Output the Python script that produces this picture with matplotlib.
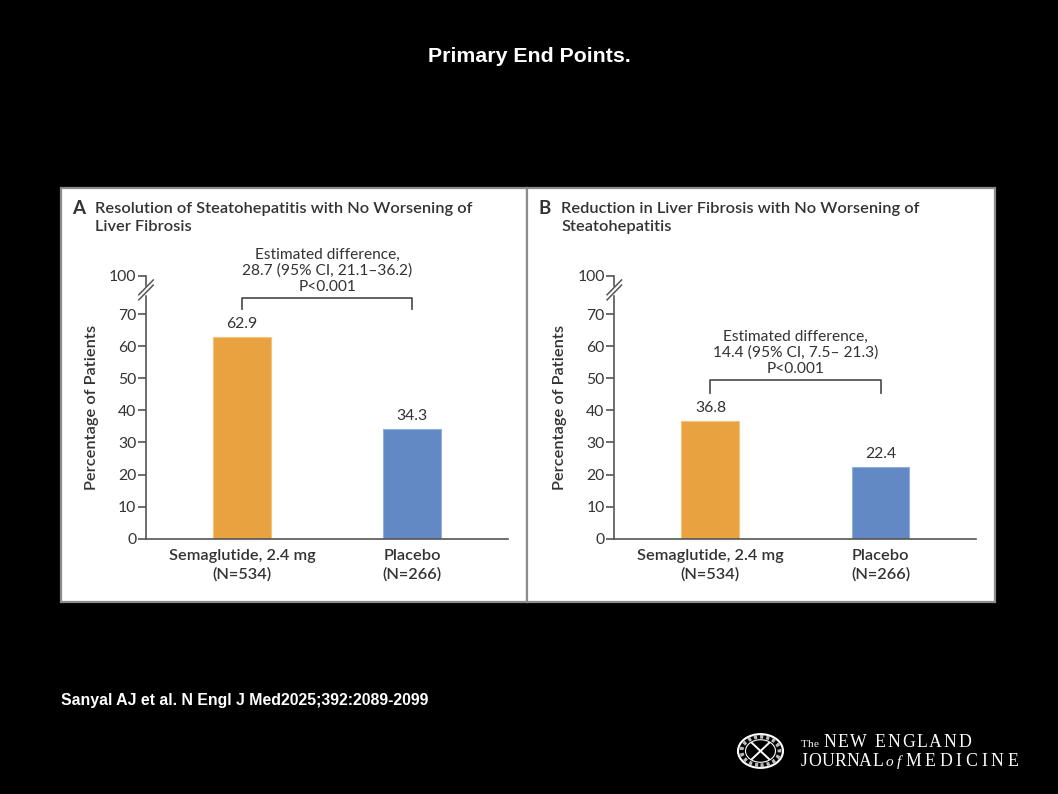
import matplotlib
matplotlib.use("Agg")
import matplotlib.pyplot as plt
from matplotlib.patches import Rectangle, Circle
import matplotlib.transforms as mtransforms

# ---------------- data ----------------
groups = ["Semaglutide, 2.4 mg\n(N=534)", "Placebo\n(N=266)"]
panel_letters = ["A", "B"]
panel_titles = ["Resolution of Steatohepatitis with No Worsening of\nLiver Fibrosis",
                "Reduction in Liver Fibrosis with No Worsening of\nSteatohepatitis"]
values_A = [62.9, 34.3]
values_B = [36.8, 22.4]
diff_texts = ["Estimated difference,\n28.7 (95% CI, 21.1\u201336.2)\nP<0.001",
              "Estimated difference,\n14.4 (95% CI, 7.5\u2013 21.3)\nP<0.001"]
bracket_top = [75.0, 49.4]
bracket_leg = [71.5, 45.3]
ytick_vals = [0, 10, 20, 30, 40, 50, 60, 70, 82]
ytick_labels = ["0", "10", "20", "30", "40", "50", "60", "70", "100"]
bar_colors = ["#E8A23F", "#6389C4"]
bar_edges = ["#F3C47A", "#8FB0DC"]

W, H = 1058, 794
fig = plt.figure(figsize=(W / 100, H / 100), dpi=100, facecolor="black")
renderer = fig.canvas.get_renderer()

def fx(x):
    return x / W

def fy(y):
    return 1 - y / H

FONT = "Lato"
TXT = "#333333"
SPINE = "#555555"

fig.text(fx(529.5), fy(57), "Primary End Points.", color="white", fontsize=15.3,
         fontweight="bold", family="Liberation Sans", ha="center", va="center")
fig.text(fx(61), fy(701), "Sanyal AJ et al. N Engl J Med2025;392:2089-2099", color="white",
         fontsize=11.4, fontweight="bold", family="Liberation Sans", ha="left", va="center")

panel_boxes = [(61, 188, 527, 602), (527, 188, 995, 602)]
axes_lefts = [146, 614.3]
axes_right_offset = 361.5
y0_px, ytop_px = 538.7, 275.5

for i, vals in enumerate([values_A, values_B]):
    x1, y1, x2, y2 = panel_boxes[i]
    fig.add_artist(Rectangle((fx(x1), fy(y2)), (x2 - x1) / W, (y2 - y1) / H,
                             transform=fig.transFigure, facecolor="white",
                             edgecolor="#8c8c8c", lw=1.6, zorder=-1))
    # panel headings
    fig.text(fx(x1 + 11), fy(208), panel_letters[i], fontsize=13.5, fontweight="bold",
             family=FONT, color=TXT, ha="left", va="center")
    fig.text(fx(x1 + 34), fy(201.5), panel_titles[i], fontsize=11.8, fontweight="semibold",
             family=FONT, color=TXT, ha="left", va="top", linespacing=1.38)

    left = axes_lefts[i]
    ax = fig.add_axes([fx(left), fy(y0_px), axes_right_offset / W, (y0_px - ytop_px) / H])
    ax.set_facecolor("none")
    x = list(range(len(vals)))
    ax.bar(x, vals, width=0.34, color=bar_colors, edgecolor=bar_edges, linewidth=0.8, zorder=2)
    ax.set_xlim(-0.565, 1.56)
    ax.set_ylim(0, 82)
    for s in ["top", "right"]:
        ax.spines[s].set_visible(False)
    for s in ["left", "bottom"]:
        ax.spines[s].set_color(SPINE)
        ax.spines[s].set_linewidth(1.2)
    ax.set_yticks(ytick_vals)
    ax.set_yticklabels(ytick_labels)
    ax.tick_params(axis="y", length=6, width=1.2, color=SPINE, labelsize=11.3,
                   labelcolor=TXT, pad=1)
    ax.set_xticks(x)
    ax.set_xticklabels(groups, fontsize=11.8, fontweight="semibold", color=TXT,
                       linespacing=1.38)
    ax.tick_params(axis="x", length=0, pad=7.5)
    for lab in ax.get_xticklabels() + ax.get_yticklabels():
        lab.set_family(FONT)
    ax.set_ylabel("Percentage of Patients", fontsize=11.8, fontweight="semibold",
                  color=TXT, family=FONT)
    ax.yaxis.set_label_coords(-0.13, 0.5)

    # value labels
    for xi, v in zip(x, vals):
        ax.annotate(f"{v:.1f}", (xi, v), xytext=(0, 9), textcoords="offset points",
                    ha="center", va="center", fontsize=11.3, color=TXT, family=FONT)

    # bracket
    ax.plot([x[0], x[0], x[1], x[1]], [bracket_leg[i], bracket_top[i], bracket_top[i], bracket_leg[i]],
            color=SPINE, lw=1.3, clip_on=False, zorder=3)
    ax.annotate(diff_texts[i], ((x[0] + x[1]) / 2, bracket_top[i]), xytext=(0, 3),
                textcoords="offset points", ha="center", va="bottom", fontsize=11.2,
                color=TXT, family=FONT, linespacing=1.18, annotation_clip=False)

    # axis break marks
    bt = mtransforms.blended_transform_factory(ax.transAxes, ax.transData)
    ax.plot([0, 0], [76.6, 78.0], color="white", lw=2.5, transform=bt, clip_on=False, zorder=4)
    for off in (0.0, 1.6):
        ax.plot([-0.02, 0.02], [74.4 + off, 79.0 + off], color=SPINE, lw=1.1,
                transform=bt, clip_on=False, zorder=5)

# NEJM logo
seal_c = (fx(760.5), fy(751))
fig.add_artist(Circle(seal_c, 22.5 / W, transform=fig.transFigure, facecolor="black",
                      edgecolor="white", lw=1.5))
fig.add_artist(Circle(seal_c, 19 / W, transform=fig.transFigure,
                      facecolor="none", edgecolor="#bbbbbb", lw=2.8, ls=(0, (0.8, 0.8))))
fig.add_artist(Circle(seal_c, 15 / W, transform=fig.transFigure,
                      facecolor="black", edgecolor="white", lw=0.8))
fig.add_artist(plt.Line2D([fx(752), fx(769)], [fy(743), fy(759)], color="white", lw=1.4))
fig.add_artist(plt.Line2D([fx(752), fx(769)], [fy(759), fy(743)], color="white", lw=1.4))

serif = "Liberation Serif"

def tracked(x_left, x_right, y_base, s, size, style="normal"):
    widths = []
    for ch in s:
        if ch == " ":
            widths.append(size * 100 / 72 * 0.25)
            continue
        t = fig.text(0, 0, ch, fontsize=size, family=serif, style=style)
        widths.append(t.get_window_extent(renderer).width)
        t.remove()
    total = sum(widths)
    track = max((x_right - x_left - total) / max(len(s) - 1, 1), 0.0)
    cur = x_left
    for ch, w in zip(s, widths):
        if ch != " ":
            fig.text(fx(cur), fy(y_base), ch, color="white", fontsize=size, family=serif,
                     style=style, ha="left", va="baseline")
        cur += w + track

tracked(801, 818.5, 747.3, "The", 8.0)
tracked(823.3, 971, 747.3, "NEW ENGLAND", 12.8)
tracked(801, 883, 766.3, "JOURNAL", 12.8)
tracked(886, 901, 766.3, "of", 11.0, style="italic")
tracked(905, 1018, 766.3, "MEDICINE", 12.8)

fig.savefig("out.png", dpi=100, facecolor="black")
